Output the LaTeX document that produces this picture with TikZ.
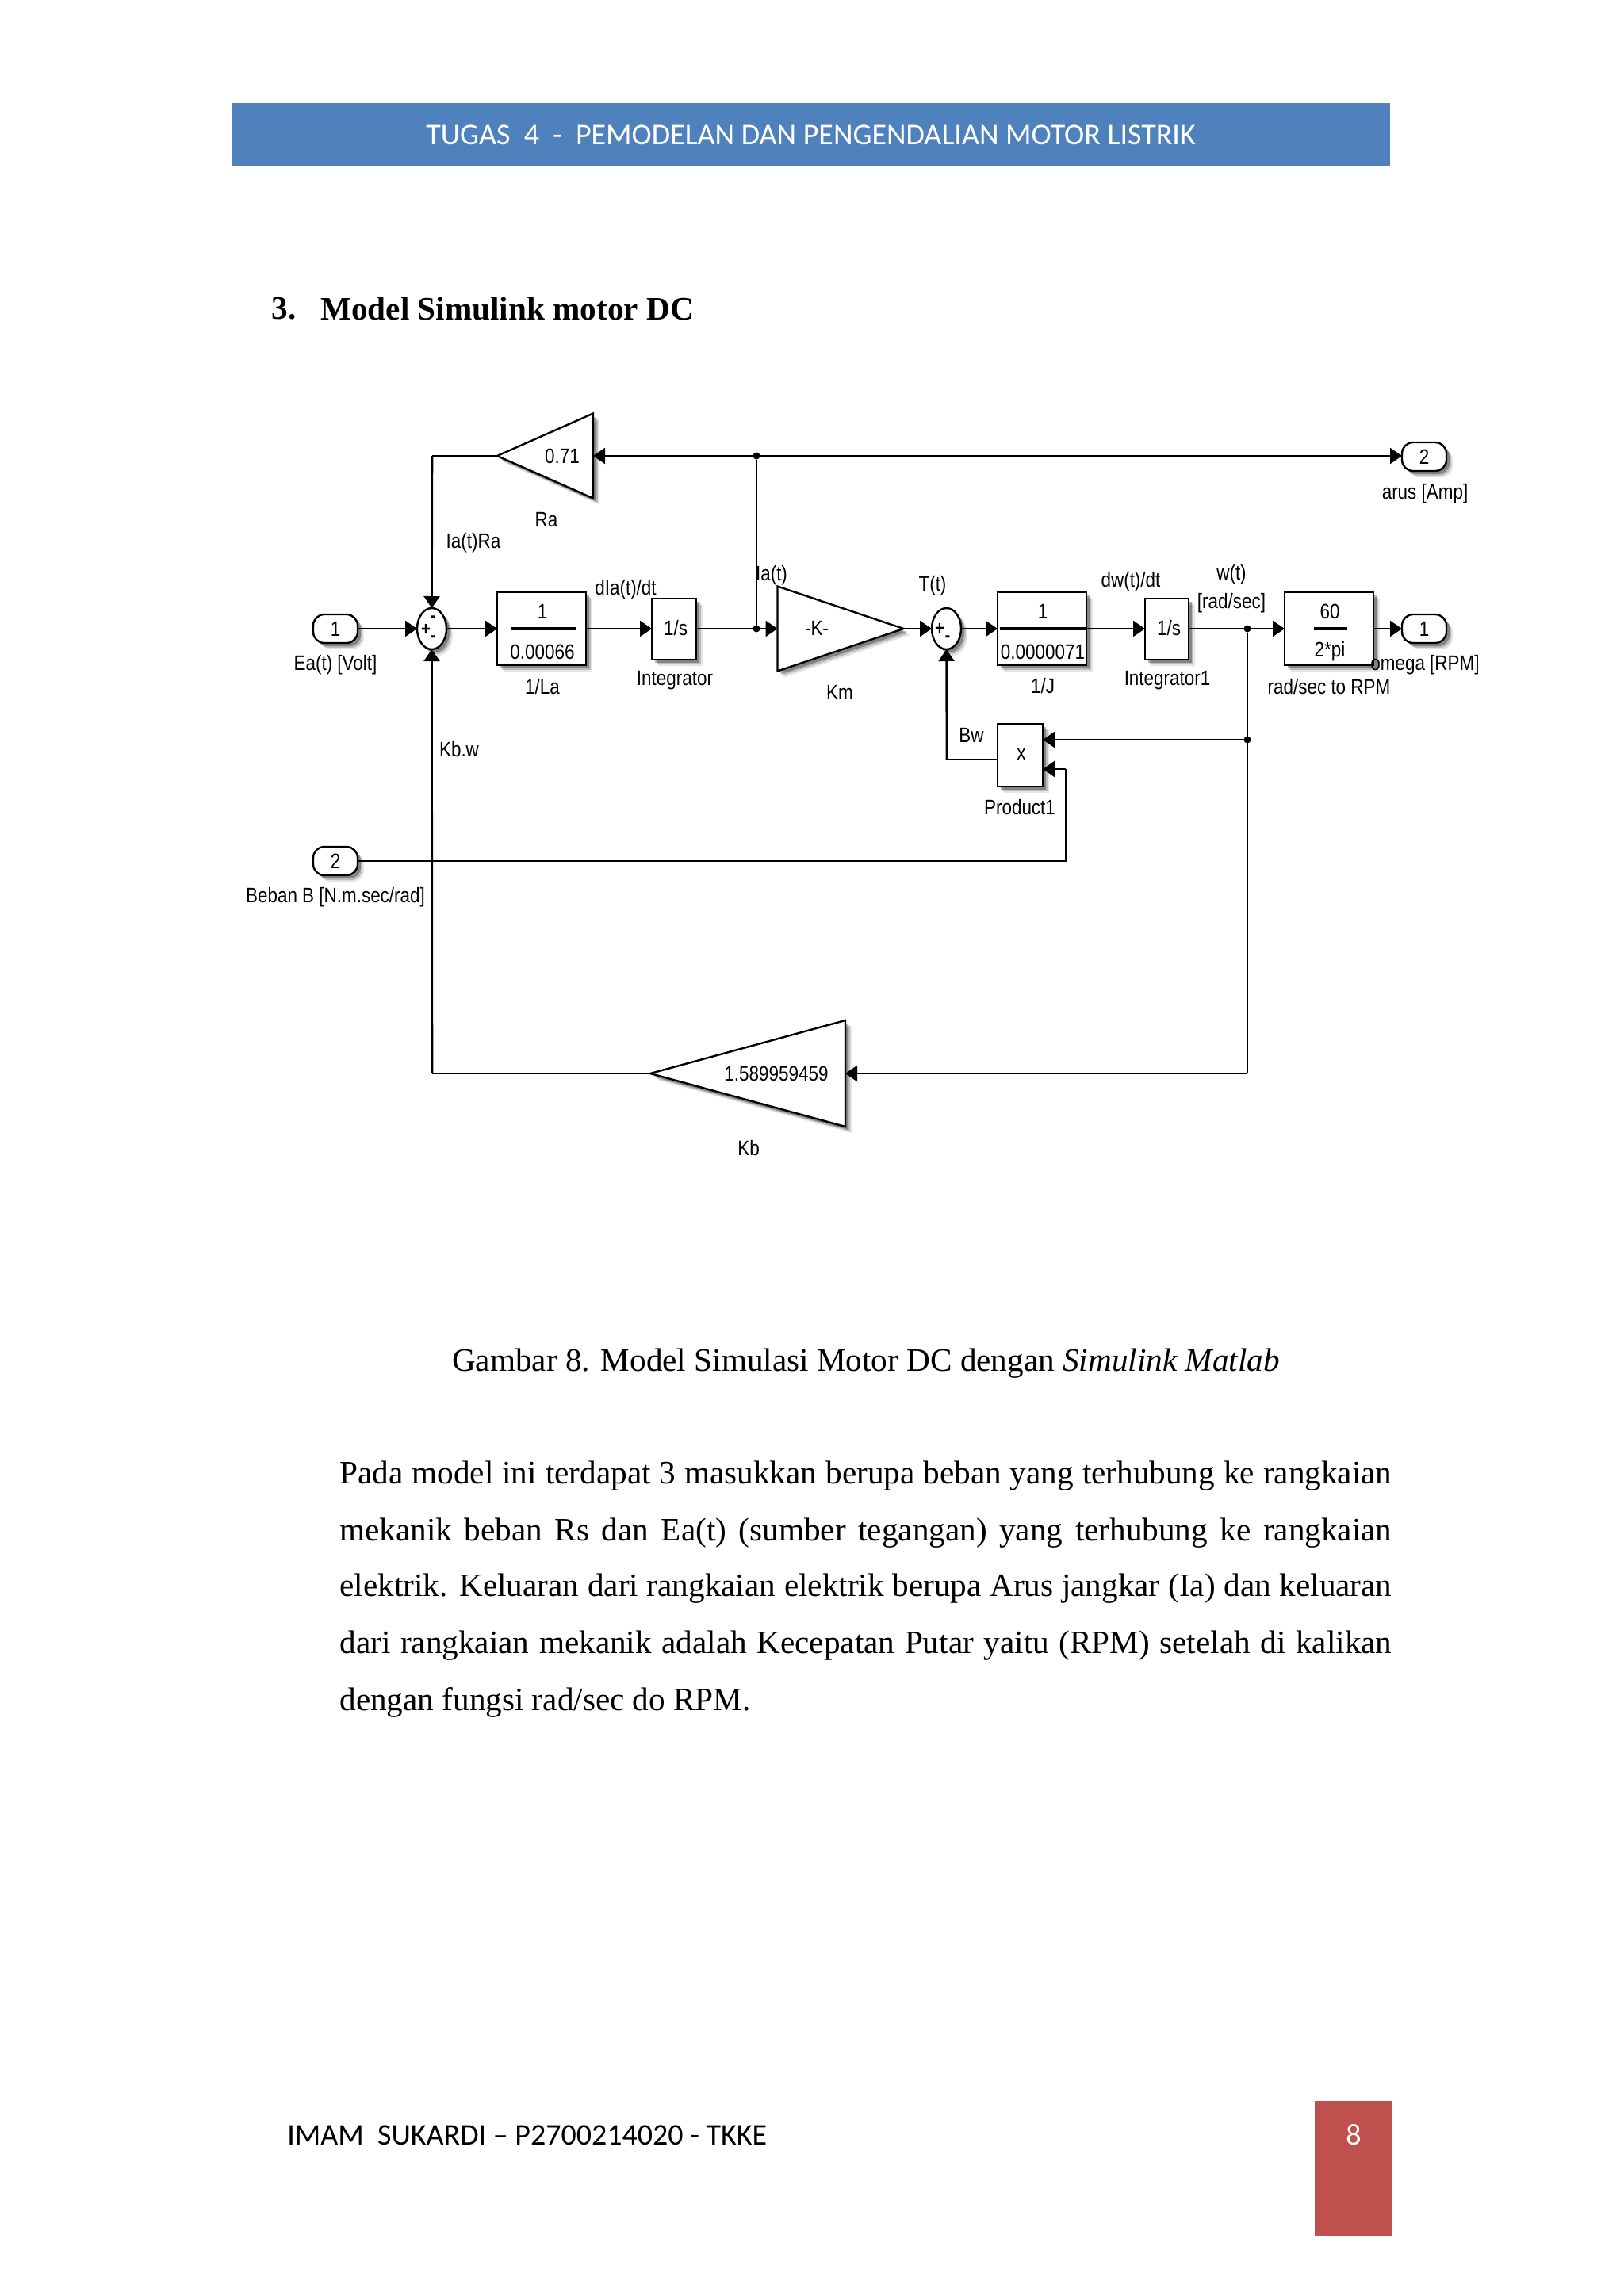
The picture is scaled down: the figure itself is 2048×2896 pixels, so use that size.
\documentclass[tikz,border=0pt]{standalone}
\usepackage{fontspec}
\setmainfont{Liberation Serif}
\newfontfamily\slfont[FakeStretch=0.85]{Liberation Sans}
\newfontfamily\cbfont{Carlito}
\usetikzlibrary{arrows.meta,shapes.geometric,calc}
\definecolor{hdrblue}{HTML}{4F81BD}
\definecolor{pagered}{HTML}{C0504D}
\tikzset{
  softshadow/.style={
    preaction={draw=none,fill=black,opacity=.10,transform canvas={shift={(4pt,-4pt)}}},
    preaction={draw=none,fill=black,opacity=.18,transform canvas={shift={(3pt,-3pt)}}},
    preaction={draw=none,fill=black,opacity=.30,transform canvas={shift={(2pt,-2pt)}}}},
  blockbox/.style={softshadow,draw=black,fill=white,line width=1.2pt,rectangle,inner sep=0pt,outer sep=0pt},
  portbox/.style={blockbox,rounded corners=7pt,minimum width=28pt,minimum height=18pt,font=\slfont\fontsize{13.2}{15}\selectfont},
  sumbox/.style={softshadow,draw=black,fill=white,line width=1.2pt,ellipse,inner sep=0pt,outer sep=0pt,minimum width=18.5pt,minimum height=26pt},
  gainbox/.style={softshadow,draw=black,fill=white,line width=1.2pt,isosceles triangle,isosceles triangle stretches,shape border rotate=180,inner sep=0pt,outer sep=0pt,anchor=apex},
  dotnode/.style={circle,fill=black,inner sep=0pt,minimum size=4.5pt,outer sep=0pt},
  lbl/.style={font=\slfont\fontsize{13.2}{15}\selectfont,inner sep=0pt,text=black},
  signlbl/.style={font=\slfont\bfseries\fontsize{12}{12}\selectfont,inner sep=0pt},
  conn/.style={line width=1.3pt,draw=black},
  arr/.style={conn,-{Triangle[length=7.5pt,width=10pt]}},
  fracbar/.style={line width=1.6pt,draw=black},
  bodyline/.style={font=\fontsize{20.6}{24}\selectfont,inner sep=0pt,anchor=west},
}
\begin{document}
\begin{tikzpicture}[x=0.5pt,y=-0.5pt]
\useasboundingbox (0,0) rectangle (2048,2896);
% page furniture
\node[fill=hdrblue,minimum width=730.5pt,minimum height=39.5pt,inner sep=0pt,outer sep=0pt] (hdr) at (1022.5,169.5) {};
\node[text=white,font=\cbfont\fontsize{19}{24}\selectfont,inner sep=0pt] (hdrtxt) at (1022.5,170) {TUGAS\ \ 4\ \ -\ \ PEMODELAN DAN PENGENDALIAN MOTOR LISTRIK};
\node[font=\bfseries\fontsize{20.6}{24}\selectfont,inner sep=0pt,anchor=west] (h3) at (342,389) {3.};
\node[font=\bfseries\fontsize{20.6}{24}\selectfont,inner sep=0pt,anchor=west] (h3t) at (404,389) {Model Simulink motor DC};
% blocks
\node[portbox] (ea) at (423,793) {1};
\node[portbox] (beb) at (423,1086) {2};
\node[portbox] (out1) at (1796,793) {1};
\node[portbox] (out2) at (1796,576) {2};
\node[sumbox] (s1) at (544.5,793) {};
\node[sumbox] (s2) at (1193.5,793) {};
\node[blockbox,minimum width=56pt,minimum height=46pt] (la) at (683,793) {};
\node[blockbox,minimum width=28pt,minimum height=38.5pt] (int) at (850,793.5) {};
\node[blockbox,minimum width=56pt,minimum height=46pt] (jj) at (1314,793) {};
\node[blockbox,minimum width=27.5pt,minimum height=38.5pt] (int1) at (1471.5,793.5) {};
\node[blockbox,minimum width=56pt,minimum height=46pt] (rpm) at (1676,793) {};
\node[blockbox,minimum width=28.5pt,minimum height=39.5pt] (prod) at (1286.5,952.5) {};
\node[gainbox,minimum height=60.5pt,minimum width=53.5pt] (ra) at (627,575) {};
\node[gainbox,shape border rotate=0,minimum height=79.5pt,minimum width=53.5pt] (km) at (1139.5,793) {};
\node[gainbox,minimum height=123pt,minimum width=67pt] (kb) at (820,1354) {};
% fraction bars
\draw[fracbar] (la.center) ++(-39,0) -- ++(82,0);
\draw[fracbar] (jj.center) ++(-53,0) -- ++(109,0);
\draw[fracbar] (rpm.center) ++(-19,0) -- ++(42,0);
% junctions
\node[dotnode] (j1) at (954,575) {};
\node[dotnode] (j2) at (954,793) {};
\node[dotnode] (j3) at (1573,793) {};
\node[dotnode] (j4) at (1573,933) {};
\coordinate (c1) at (545,575);
\coordinate (c2) at (1573,1354);
\coordinate (c3) at (545,1354);
\coordinate (c4) at (1344,1086);
\coordinate (c5) at (1344,970);
\coordinate (c6) at (1315,970);
\coordinate (c7) at (1315,933);
\coordinate (c8) at (1258,958);
\coordinate (c9) at (1194,958);
% connectors
\draw[arr] (ea.east) -- (s1.west);
\draw[arr] (s1.east) -- (la.west);
\draw[arr] (la.east) -- (int.west |- la.east);
\draw[conn] (int.east |- j2) -- (j2);
\draw[arr] (j2) -- (km.lower side);
\draw[conn] (j2) -- (j1);
\draw[arr] (j1) -- (ra.lower side);
\draw[arr] (j1) -- (out2.west |- j1);
\draw[conn] (ra.apex) -- (c1);
\draw[arr] (c1) -- (s1.north);
\draw[arr] (km.apex) -- (s2.west);
\draw[arr] (s2.east) -- (jj.west);
\draw[arr] (jj.east) -- (int1.west |- jj.east);
\draw[conn] (int1.east |- j3) -- (j3);
\draw[arr] (j3) -- (rpm.west);
\draw[arr] (rpm.east) -- (out1.west);
\draw[conn] (j3) -- (c2);
\draw[arr] (c2) -- (kb.lower side);
\draw[conn] (kb.apex) -- (c3);
\draw[arr] (c3) -- (s1.south);
\draw[arr] (j4) -- (c7);
\draw[conn] (beb.east) -- (c4) -- (c5);
\draw[arr] (c5) -- (c6);
\draw[conn] (c8) -- (c9);
\draw[arr] (c9) -- (s2.south);
% block texts
\node[signlbl] (p1) at (537,794) {+};
\node[signlbl] (m1) at (546,781) {-};
\node[signlbl] (m2) at (546,806) {-};
\node[signlbl] (p2) at (1185,793) {+};
\node[signlbl] (m3) at (1195,806) {-};
\node[lbl] (t1) at (709,575) {0.71};
\node[lbl] (t2) at (1030,792) {-K-};
\node[lbl] (t3) at (979,1354) {1.589959459};
\node[lbl] (t4) at (684,771) {1};
\node[lbl] (t5) at (684,822) {0.00066};
\node[lbl] (t6) at (852,792) {1/s};
\node[lbl] (t7) at (1315,771) {1};
\node[lbl] (t8) at (1315,822) {0.0000071};
\node[lbl] (t9) at (1474,792) {1/s};
\node[lbl] (t10) at (1677,771) {60};
\node[lbl] (t11) at (1677,822) {2*pi};
\node[lbl] (t12) at (1288,952) {x};
% labels
\node[lbl] (l1) at (689,656) {Ra};
\node[lbl] (l2) at (597,685) {Ia(t)Ra};
\node[lbl] (l3) at (789,744) {dIa(t)/dt};
\node[lbl] (l4) at (973,726) {Ia(t)};
\node[lbl] (l5) at (1176,739) {T(t)};
\node[lbl] (l6) at (1426,734) {dw(t)/dt};
\node[lbl] (l7) at (1553,725) {w(t)};
\node[lbl] (l8) at (1553,761) {[rad/sec]};
\node[lbl] (l9) at (684,866) {1/La};
\node[lbl] (l10) at (851,858) {Integrator};
\node[lbl] (l11) at (423,839) {Ea(t) [Volt]};
\node[lbl] (l12) at (579,945) {Kb.w};
\node[lbl] (l13) at (423,1132) {Beban B [N.m.sec/rad]};
\node[lbl] (l14) at (1059,873) {Km};
\node[lbl] (l15) at (1315,865) {1/J};
\node[lbl] (l16) at (1472,858) {Integrator1};
\node[lbl] (l17) at (1676,866) {rad/sec to RPM};
\node[lbl] (l18) at (1797,839) {omega [RPM]};
\node[lbl] (l19) at (1797,623) {arus [Amp]};
\node[lbl] (l20) at (1225,927) {Bw};
\node[lbl] (l21) at (1286,1018) {Product1};
\node[lbl] (l22) at (944,1448) {Kb};
% caption and paragraph
\node[font=\fontsize{20.6}{24}\selectfont,inner sep=0pt] (cap) at (1092,1720) {Gambar 8. Model Simulasi Motor DC dengan \textit{Simulink Matlab}};
\node[bodyline] (b1) at (428,1862) {\makebox[663.5pt][s]{Pada model ini terdapat 3 masukkan berupa beban yang terhubung ke rangkaian}};
\node[bodyline] (b2) at (428,1934) {\makebox[663.5pt][s]{mekanik beban Rs dan Ea(t) (sumber tegangan) yang terhubung ke rangkaian}};
\node[bodyline] (b3) at (428,2004) {\makebox[663.5pt][s]{elektrik. Keluaran dari rangkaian elektrik berupa Arus jangkar (Ia) dan keluaran}};
\node[bodyline] (b4) at (428,2076) {\makebox[663.5pt][s]{dari rangkaian mekanik adalah Kecepatan Putar yaitu (RPM) setelah di kalikan}};
\node[bodyline] (b5) at (428,2147) {dengan fungsi rad/sec do RPM.};
% footer
\node[font=\cbfont\fontsize{19}{24}\selectfont,inner sep=0pt,anchor=west] (ft) at (362,2693) {IMAM\ \ SUKARDI – P2700214020 - TKKE};
\node[fill=pagered,minimum width=49pt,minimum height=85pt,inner sep=0pt,outer sep=0pt] (pg) at (1707,2735) {};
\node[text=white,font=\cbfont\fontsize{19}{24}\selectfont,inner sep=0pt] (pgn) at (1707,2693) {8};
\end{tikzpicture}
\end{document}
